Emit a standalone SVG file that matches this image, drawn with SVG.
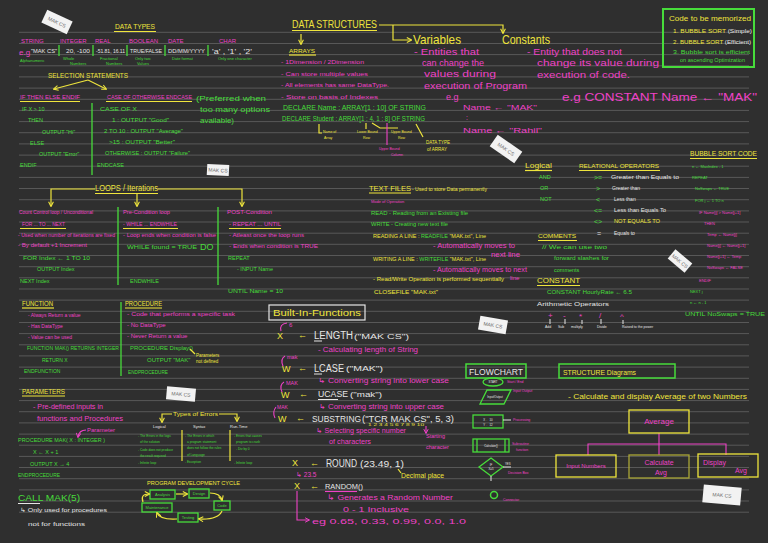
<svg xmlns="http://www.w3.org/2000/svg" width="768" height="543" viewBox="0 0 768 543">
<defs>
<style>
text{font-family:"Liberation Sans",Arial,sans-serif}
.y{fill:#efe53d}
.p{fill:#ee42c6}
.g{fill:#47dc3b}
.w{fill:#e6e6e6}
.hy{stroke:#efe53d;fill:none;stroke-width:1.2}
.hp{stroke:#ee42c6;fill:none;stroke-width:1.1}
.hg{stroke:#47dc3b;fill:none;stroke-width:1.3}
.hw{stroke:#e6e6e6;fill:none;stroke-width:1}
.rule{stroke:#5d5d5d;stroke-width:0.9}
.note{fill:#f2f2f2}
.nt{fill:#6a6a6a;font-size:5px}
</style>
<marker id="ay" viewBox="0 0 10 10" refX="8" refY="5" markerWidth="5" markerHeight="5" orient="auto"><path d="M1,1 L9,5 L1,9" fill="none" stroke="#efe53d" stroke-width="1.8"/></marker>
<marker id="ap" viewBox="0 0 10 10" refX="8" refY="5" markerWidth="5" markerHeight="5" orient="auto"><path d="M1,1 L9,5 L1,9" fill="none" stroke="#ee42c6" stroke-width="1.8"/></marker>
<marker id="aw" viewBox="0 0 10 10" refX="8" refY="5" markerWidth="5" markerHeight="5" orient="auto"><path d="M1,1 L9,5 L1,9" fill="none" stroke="#e6e6e6" stroke-width="1.8"/></marker>
</defs>
<rect width="768" height="543" fill="#2f2f2f"/>
<path class="rule" d="M19 32.3H749M19 43.5H749M19 54.6H749M19 65.8H749M19 76.9H749M19 88.1H749M19 99.3H749M19 110.4H749M19 121.6H749M19 132.7H749M19 143.9H749M19 155.1H749M19 166.2H749M19 177.4H749M19 188.5H749M19 199.7H749M19 210.9H749M19 222H749M19 233.2H749M19 244.3H749M19 255.5H749M19 266.7H749M19 277.8H749M19 289H749M19 300.1H749M19 311.3H749M19 322.5H749M19 333.6H749M19 344.8H749M19 355.9H749M19 367.1H749M19 378.3H749M19 389.4H749M19 400.6H749M19 411.7H749M19 422.9H749M19 434.1H749M19 445.2H749M19 456.4H749M19 467.5H749M19 478.7H749M19 489.9H749M19 501H749M19 512.2H749"/>

<!-- sticky notes -->
<g id="note1" transform="translate(57,22) rotate(25)"><rect x="-14" y="-7" width="28" height="14" class="note"/><text class="nt" text-anchor="middle" y="2">MAK CS</text></g>
<g id="note2" transform="translate(218,170) rotate(3)"><rect x="-11" y="-5.5" width="22" height="11" class="note"/><text class="nt" text-anchor="middle" y="2" font-size="4">MAK CS</text></g>
<g id="note3" transform="translate(506,149) rotate(35)"><rect x="-15" y="-7" width="30" height="14" class="note"/><text class="nt" text-anchor="middle" y="2">MAK CS</text></g>
<g id="note4" transform="translate(680,261) rotate(40)"><rect x="-11" y="-6" width="22" height="12" class="note"/><text class="nt" text-anchor="middle" y="2" font-size="4">MAK CS</text></g>
<g id="note5" transform="translate(493,325) rotate(10)"><rect x="-14" y="-7" width="28" height="14" class="note"/><text class="nt" text-anchor="middle" y="2">MAK CS</text></g>
<g id="note6" transform="translate(181,394) rotate(5)"><rect x="-14.5" y="-6.5" width="29" height="13" class="note"/><text class="nt" text-anchor="middle" y="2">MAK CS</text></g>
<g id="note7" transform="translate(722,495) rotate(5)"><rect x="-19" y="-9" width="38" height="18" class="note"/><text class="nt" text-anchor="middle" y="2" font-size="6">MAK CS</text></g>

<!-- DATA TYPES -->
<g id="data-types">
<text x="115" y="29" class="y" font-size="7" textLength="40" lengthAdjust="spacingAndGlyphs">DATA TYPES</text>
<path class="hy" d="M114 31.5H156"/>
<g class="p" font-size="6">
<text x="21" y="43">STRING</text><text x="60" y="43">INTEGER</text><text x="95" y="43">REAL</text><text x="129" y="43">BOOLEAN</text><text x="168" y="43">DATE</text><text x="219" y="43">CHAR</text>
</g>
<text x="19" y="55" class="p" font-size="8">e.g</text>
<g class="w" font-size="5.5">
<text x="31" y="53" textLength="26" lengthAdjust="spacingAndGlyphs">"MAK CS"</text>
<text x="66" y="53" textLength="24" lengthAdjust="spacingAndGlyphs">20, -100</text>
<text x="96" y="53" textLength="29" lengthAdjust="spacingAndGlyphs">-51.81, 16.11</text>
<text x="130" y="53" textLength="32" lengthAdjust="spacingAndGlyphs">TRUE/FALSE</text>
<text x="168" y="53" textLength="37" lengthAdjust="spacingAndGlyphs">DD/MM/YYYY</text>
<text x="212" y="54" font-size="7" textLength="40" lengthAdjust="spacingAndGlyphs">'a' , '1' , '2'</text>
</g>
<path class="hg" d="M59 45V56M93 45V56M127 45V56M165 45V56M208 45V56"/>
<g class="g" font-size="4">
<text x="20" y="62">Alphanumeric</text>
<text x="63" y="60">Whole</text><text x="70" y="65">Numbers</text>
<text x="100" y="60">Fractional</text><text x="106" y="65">Numbers</text>
<text x="135" y="60">Only two</text><text x="137" y="65">Values</text>
<text x="172" y="60">Date format</text>
<text x="218" y="60">Only one character</text>
</g>
</g>

<!-- SELECTION -->
<g id="selection">
<text x="48" y="78" class="y" font-size="7" textLength="80" lengthAdjust="spacingAndGlyphs">SELECTION STATEMENTS</text>
<path class="hy" d="M88 80L54 89" marker-end="url(#ay)"/>
<path class="hy" d="M88 80L106 89" marker-end="url(#ay)"/>
<text x="20" y="99" class="p" font-size="5.5" textLength="60" lengthAdjust="spacingAndGlyphs">IF THEN ELSE ENDIF</text>
<path class="hy" d="M20 101.5H80"/>
<text x="107" y="99" class="p" font-size="5.5" textLength="85" lengthAdjust="spacingAndGlyphs">CASE OF OTHERWISE ENDCASE</text>
<path class="hy" d="M106 101.5H192"/>
<g class="g" font-size="8">
<text x="196" y="101" textLength="70" lengthAdjust="spacingAndGlyphs">(Preferred when</text>
<text x="200" y="112" textLength="70" lengthAdjust="spacingAndGlyphs">too many options</text>
<text x="200" y="123" textLength="34" lengthAdjust="spacingAndGlyphs">available)</text>
</g>
<path class="hg" d="M92 103V175"/>
<g class="g" font-size="5.5">
<text x="22" y="111">IF X &gt; 10</text>
<text x="28" y="122">THEN</text>
<text x="42" y="134">OUTPUT "Hi"</text>
<text x="30" y="145">ELSE</text>
<text x="39" y="156">OUTPUT "Error"</text>
<text x="20" y="167">ENDIF</text>
</g>
<g class="g" font-size="6">
<text x="100" y="111" textLength="37" lengthAdjust="spacingAndGlyphs">CASE OF X</text>
<text x="112" y="122" textLength="57" lengthAdjust="spacingAndGlyphs">1 : OUTPUT "Good"</text>
<text x="104" y="133" textLength="79" lengthAdjust="spacingAndGlyphs">2 TO 10 : OUTPUT "Average"</text>
<text x="109" y="144" textLength="66" lengthAdjust="spacingAndGlyphs">&gt;15 : OUTPUT "Better"</text>
<text x="105" y="155" textLength="85" lengthAdjust="spacingAndGlyphs">OTHERWISE : OUTPUT "Failure"</text>
<text x="97" y="167" textLength="27" lengthAdjust="spacingAndGlyphs">ENDCASE</text>
</g>
</g>

<!-- LOOPS -->
<g id="loops">
<text x="95" y="191" class="y" font-size="8.5" textLength="63" lengthAdjust="spacingAndGlyphs">LOOPS / Iterations</text>
<path class="hy" d="M95 193.5H158"/>
<path class="hy" d="M95 189H51V206" marker-end="url(#ay)"/>
<path class="hy" d="M158 189H242V206" marker-end="url(#ay)"/>
<path class="hy" d="M137 194V206" marker-end="url(#ay)"/>
<path class="hg" d="M118 207V285M218 207V285"/>
<g class="p" font-size="5">
<text x="19" y="214" textLength="74" lengthAdjust="spacingAndGlyphs">Count Control loop / Unconditional</text>
<text x="22" y="226" font-size="5.5" textLength="43" lengthAdjust="spacingAndGlyphs">FOR ... TO ... NEXT</text>
<text x="18" y="237" textLength="97" lengthAdjust="spacingAndGlyphs">- Used when number of iterations are fixed</text>
<text x="18" y="247" textLength="69" lengthAdjust="spacingAndGlyphs">- By default +1 Increment</text>
<text x="123" y="214" textLength="47" lengthAdjust="spacingAndGlyphs">Pre-Condition loop</text>
<text x="123" y="226" font-size="5.5" textLength="54" lengthAdjust="spacingAndGlyphs">- WHILE ... ENDWHILE</text>
<text x="123" y="237" textLength="93" lengthAdjust="spacingAndGlyphs">- Loop ends when condition is false</text>
<text x="227" y="214" textLength="45" lengthAdjust="spacingAndGlyphs">POST-Condition</text>
<text x="229" y="226" font-size="5.5" textLength="52" lengthAdjust="spacingAndGlyphs">- REPEAT ... UNTIL</text>
<text x="229" y="237" textLength="75" lengthAdjust="spacingAndGlyphs">- Atleast once the loop runs</text>
<text x="229" y="248" textLength="89" lengthAdjust="spacingAndGlyphs">- Ends when condition is TRUE</text>
</g>
<path class="hy" d="M20 228.5H66M123 228.5H178M229 228.5H281"/>
<g class="g" font-size="5.5">
<text x="23" y="260" textLength="67" lengthAdjust="spacingAndGlyphs">FOR Index ← 1 TO 10</text>
<text x="37" y="271">OUTPUT Index</text>
<text x="20" y="283">NEXT Index</text>
<text x="127" y="249" textLength="70" lengthAdjust="spacingAndGlyphs">WHILE found = TRUE</text>
<text x="200" y="250" font-size="9">DO</text>
<text x="130" y="283">ENDWHILE</text>
<text x="228" y="260">REPEAT</text>
<text x="237" y="271">- INPUT Name</text>
<text x="228" y="293" textLength="55" lengthAdjust="spacingAndGlyphs">UNTIL Name = 10</text>
</g>
</g>

<!-- FUNCTION / PROCEDURE -->
<g id="function">
<text x="22" y="306" class="y" font-size="6.5" textLength="31" lengthAdjust="spacingAndGlyphs">FUNCTION</text>
<path class="hy" d="M22 308H54"/>
<g class="p" font-size="5">
<text x="28" y="317">- Always Return a value</text>
<text x="28" y="328">- Has DataType</text>
<text x="28" y="339">- Value can be used</text>
</g>
<g class="g" font-size="5">
<text x="27" y="350" textLength="92" lengthAdjust="spacingAndGlyphs">FUNCTION MAK() RETURNS INTEGER</text>
<text x="42" y="362">RETURN X</text>
<text x="24" y="373">ENDFUNCTION</text>
</g>
<path class="hg" d="M121 302V376"/>
</g>
<g id="procedure">
<text x="125" y="306" class="y" font-size="6.5" textLength="37" lengthAdjust="spacingAndGlyphs">PROCEDURE</text>
<path class="hy" d="M125 308H162"/>
<g class="p" font-size="6">
<text x="127" y="316" textLength="108" lengthAdjust="spacingAndGlyphs">- Code that performs a specific task</text>
<text x="127" y="327">- No DataType</text>
<text x="127" y="338">- Never Return a value</text>
</g>
<g class="g" font-size="6">
<text x="130" y="350" textLength="63" lengthAdjust="spacingAndGlyphs">PROCEDURE Display()</text>
<text x="147" y="362">OUTPUT "MAK"</text>
<text x="128" y="374" textLength="40" lengthAdjust="spacingAndGlyphs">ENDPROCEDURE</text>
</g>
<path class="hy" d="M190 349L195 354"/>
<text x="196" y="357" class="y" font-size="4.5">Parameters</text>
<text x="196" y="363" class="y" font-size="4.5">not defined</text>
</g>

<!-- PARAMETERS -->
<g id="parameters">
<text x="22" y="394" class="y" font-size="6.5" textLength="43" lengthAdjust="spacingAndGlyphs">PARAMETERS</text>
<path class="hy" d="M22 396H65"/>
<g class="p" font-size="7">
<text x="33" y="409" textLength="70" lengthAdjust="spacingAndGlyphs">- Pre-defined inputs in</text>
<text x="37" y="421" textLength="86" lengthAdjust="spacingAndGlyphs">functions and Procedures</text>
<text x="87" y="432" font-size="6">Parameter</text>
</g>
<path class="hp" d="M86 430Q79 430 78 437" marker-end="url(#ap)"/>
<g class="g" font-size="5.5">
<text x="18" y="442" textLength="87" lengthAdjust="spacingAndGlyphs">PROCEDURE MAK( X : INTEGER )</text>
<text x="33" y="454">X ← X + 1</text>
<text x="30" y="466">OUTPUT X → 4</text>
<text x="18" y="477" textLength="42" lengthAdjust="spacingAndGlyphs">ENDPROCEDURE</text>
<text x="18" y="501" font-size="9" textLength="62" lengthAdjust="spacingAndGlyphs">CALL MAK(5)</text>
</g>
<path class="hw" d="M18 503.5H40"/>
<g class="w" font-size="6">
<text x="20" y="512" textLength="87" lengthAdjust="spacingAndGlyphs">↳ Only used for procedures</text>
<text x="28" y="526" textLength="57" lengthAdjust="spacingAndGlyphs">not for functions</text>
</g>
</g>

<!-- TYPES OF ERRORS -->
<g id="errors">
<text x="173" y="416" class="y" font-size="5.5" textLength="45" lengthAdjust="spacingAndGlyphs">Types of Errors</text>
<path class="hy" d="M172 414H162V422" marker-end="url(#ay)"/>
<path class="hy" d="M219 414H237V421" marker-end="url(#ay)"/>
<g class="w" font-size="4">
<text x="153" y="428">Logical</text><text x="193" y="428">Syntax</text><text x="230" y="428">Run-Time</text>
</g>
<path class="hy" d="M182 430V461M230 430V461"/>
<g class="g" font-size="3.2">
<text x="138" y="437">- The Errors in the logic</text>
<text x="140" y="443">of the solution</text>
<text x="138" y="451">- Code does not produce</text>
<text x="140" y="457">the result required</text>
<text x="138" y="464">- Infinite loop</text>
<text x="185" y="437">- The Errors in which</text>
<text x="187" y="443">a program statement</text>
<text x="187" y="449">does not follow the rules</text>
<text x="187" y="456">of Language</text>
<text x="185" y="463">- Exception</text>
<text x="234" y="437">- Errors that causes</text>
<text x="236" y="443">program to crash</text>
<text x="236" y="450">- Div by 0</text>
<text x="234" y="464">- Infinite loop</text>
</g>
</g>

<!-- PROGRAM DEVELOPMENT CYCLE -->
<g id="pdc">
<text x="147" y="485" class="y" font-size="5.5" textLength="93" lengthAdjust="spacingAndGlyphs">PROGRAM DEVELOPMENT CYCLE</text>
<g class="hg" stroke-width="1">
<rect x="150" y="490" width="25" height="9"/>
<rect x="189" y="489" width="20" height="9"/>
<rect x="214" y="501" width="16" height="9"/>
<rect x="178" y="513" width="20" height="9"/>
<rect x="142" y="503" width="30" height="9"/>
</g>
<g class="g" font-size="4" text-anchor="middle">
<text x="162.5" y="496">Analysis</text>
<text x="199" y="495">Design</text>
<text x="222" y="507">Code</text>
<text x="188" y="519">Testing</text>
<text x="157" y="509">Maintenance</text>
</g>
<g class="hy" stroke-width="1">
<path d="M176 494H187" marker-end="url(#ay)"/>
<path d="M210 493Q220 493 222 500" marker-end="url(#ay)"/>
<path d="M222 511Q218 520 199 519" marker-end="url(#ay)"/>
<path d="M177 519Q160 520 157 513" marker-end="url(#ay)"/>
<path d="M143 502Q140 494 149 494" marker-end="url(#ay)"/>
</g>
</g>

<!-- DATA STRUCTURES -->
<g id="data-structures">
<text x="292" y="28" class="y" font-size="10" textLength="85" lengthAdjust="spacingAndGlyphs">DATA STRUCTURES</text>
<path class="hy" d="M292 30.5H377"/>
<path class="hy" d="M379 25H503V33" marker-end="url(#ay)"/>
<path class="hy" d="M393 25V40H411" marker-end="url(#ay)"/>
<path class="hy" d="M301 34V44" marker-end="url(#ay)"/>
<text x="289" y="53" class="y" font-size="5.5" textLength="26" lengthAdjust="spacingAndGlyphs">ARRAYS</text>
<path class="hy" d="M289 55H316"/>
<g class="p" font-size="6">
<text x="281" y="64" textLength="83" lengthAdjust="spacingAndGlyphs">- 1Dimension / 2Dimension</text>
<text x="281" y="76" textLength="87" lengthAdjust="spacingAndGlyphs">- Can store multiple values</text>
<text x="281" y="87" textLength="108" lengthAdjust="spacingAndGlyphs">- All elements has same DataType.</text>
<text x="281" y="99" textLength="97" lengthAdjust="spacingAndGlyphs">- Store on basis of Indexes</text>
</g>
<g class="g" font-size="7">
<text x="283" y="110" textLength="143" lengthAdjust="spacingAndGlyphs">DECLARE Name : ARRAY[1 : 10] OF STRING</text>
<text x="282" y="121" textLength="143" lengthAdjust="spacingAndGlyphs">DECLARE Student : ARRAY[1 : 4, 1 : 8] OF STRING</text>
</g>
<path class="hy" stroke-width="0.8" d="M319 124V133H322M366 123V129M372 123L380 128H398M416 124L423 137"/>
<path class="hp" d="M387 123V145"/>
<g class="y" font-size="3.5">
<text x="323" y="133">Name of</text><text x="324" y="139">Array</text>
<text x="357" y="133">Lower Bound</text><text x="363" y="139">Row</text>
<text x="391" y="133">Upper Bound</text><text x="398" y="139">Row</text>
<text x="426" y="144" font-size="4.5">DATA TYPE</text><text x="427" y="151" font-size="4.5">of ARRAY</text>
</g>
<g class="p" font-size="3.5">
<text x="379" y="150">Upper Bound</text><text x="391" y="156">Column</text>
</g>
</g>

<!-- VARIABLES -->
<g id="variables">
<text x="413" y="44" class="y" font-size="13" textLength="48" lengthAdjust="spacingAndGlyphs">Variables</text>
<g class="p" font-size="9">
<text x="414" y="55" textLength="65" lengthAdjust="spacingAndGlyphs">- Entities that</text>
<text x="422" y="66" textLength="62" lengthAdjust="spacingAndGlyphs">can change the</text>
<text x="424" y="77" textLength="72" lengthAdjust="spacingAndGlyphs">values during</text>
<text x="424" y="89" textLength="103" lengthAdjust="spacingAndGlyphs">execution of Program</text>
<text x="446" y="100">e.g</text>
</g>
<g class="p" font-size="7">
<text x="463" y="110" textLength="74" lengthAdjust="spacingAndGlyphs">Name ← "MAK"</text>
<text x="466" y="120">:</text>
<text x="463" y="133" textLength="79" lengthAdjust="spacingAndGlyphs">Name ← "Rahil"</text>
</g>
</g>

<!-- CONSTANTS -->
<g id="constants">
<text x="502" y="44" class="y" font-size="13" textLength="48" lengthAdjust="spacingAndGlyphs">Constants</text>
<g class="p" font-size="9">
<text x="527" y="55" textLength="95" lengthAdjust="spacingAndGlyphs">- Entity that does not</text>
<text x="537" y="66" textLength="122" lengthAdjust="spacingAndGlyphs">change its value during</text>
<text x="537" y="78" textLength="93" lengthAdjust="spacingAndGlyphs">execution of code.</text>
<text x="562" y="101" font-size="11" textLength="195" lengthAdjust="spacingAndGlyphs">e.g CONSTANT Name ← "MAK"</text>
</g>
</g>

<!-- CODE TO BE MEMORIZED -->
<g id="memorize">
<rect x="663" y="9" width="91" height="58" fill="none" stroke="#47dc3b" stroke-width="2"/>
<text x="669" y="21" class="y" font-size="7" textLength="82" lengthAdjust="spacingAndGlyphs">Code to be memorized</text>
<text x="673" y="33" font-size="5.5" textLength="79" lengthAdjust="spacingAndGlyphs"><tspan class="y">1. BUBBLE SORT </tspan><tspan class="w">(Simple)</tspan></text>
<text x="673" y="44" font-size="5.5" textLength="78" lengthAdjust="spacingAndGlyphs"><tspan class="y">2. BUBBLE SORT </tspan><tspan class="w">(Efficient)</tspan></text>
<text x="673" y="54" class="g" font-size="4.5" textLength="77" lengthAdjust="spacingAndGlyphs">3. Bubble sort is efficient</text>
<text x="680" y="62" class="g" font-size="4.5" textLength="65" lengthAdjust="spacingAndGlyphs">on ascending Optimization</text>
</g>

<!-- TEXT FILES -->
<g id="text-files">
<text x="369" y="191" class="y" font-size="8" textLength="42" lengthAdjust="spacingAndGlyphs">TEXT FILES</text>
<path class="hy" d="M369 193H411"/>
<text x="412" y="191" class="y" font-size="5" textLength="75" lengthAdjust="spacingAndGlyphs">- Used to store Data permanently</text>
<text x="371" y="203" class="p" font-size="4">Mode of Operation</text>
<g class="g" font-size="5">
<text x="371" y="215" textLength="97" lengthAdjust="spacingAndGlyphs">READ - Reading from an Existing file</text>
<text x="371" y="226" textLength="77" lengthAdjust="spacingAndGlyphs">WRITE - Creating new text file</text>
</g>
<text x="373" y="238" font-size="5.5" textLength="113" lengthAdjust="spacingAndGlyphs"><tspan class="y">READING A LINE : </tspan><tspan class="g">READFILE</tspan><tspan class="y"> "MAK.txt", Line</tspan></text>
<text x="373" y="261" font-size="5.5" textLength="113" lengthAdjust="spacingAndGlyphs"><tspan class="y">WRITING A LINE : </tspan><tspan class="g">WRITEFILE</tspan><tspan class="y"> "MAK.txt", Line</tspan></text>
<g class="p" font-size="7">
<text x="433" y="248" textLength="82" lengthAdjust="spacingAndGlyphs">- Automatically moves to</text>
<text x="491" y="257" textLength="29" lengthAdjust="spacingAndGlyphs">next line</text>
<text x="433" y="272" textLength="94" lengthAdjust="spacingAndGlyphs">- Automatically moves to next</text>
<text x="510" y="280" font-size="6">line</text>
</g>
<g class="y" font-size="5">
<text x="373" y="281" textLength="131" lengthAdjust="spacingAndGlyphs">- Read/Write Operation is performed sequentially</text>
<text x="374" y="294" textLength="64" lengthAdjust="spacingAndGlyphs">CLOSEFILE "MAK.txt"</text>
</g>
</g>

<!-- BUILT-IN FUNCTIONS -->
<g id="built-in">
<rect x="269" y="305" width="96" height="15" fill="none" stroke="#e6e6e6" stroke-width="1.2"/>
<text x="273" y="316" class="y" font-size="9" textLength="88" lengthAdjust="spacingAndGlyphs">Built-In-Functions</text>
<g class="y" font-size="9">
<text x="277" y="339">X</text>
<text x="282" y="372">W</text>
<text x="281" y="398">W</text>
<text x="278" y="422">W</text>
<text x="292" y="466">X</text>
<text x="294" y="489">X</text>
</g>
<g class="y" font-size="9">
<text x="298" y="338">←</text>
<text x="298" y="371">←</text>
<text x="299" y="397">←</text>
<text x="296" y="421">←</text>
<text x="310" y="466">←</text>
<text x="310" y="489">←</text>
</g>
<g class="w">
<text x="314" y="339" font-size="10" textLength="39" lengthAdjust="spacingAndGlyphs">LENGTH</text>
<text x="354" y="339" font-size="8" textLength="55" lengthAdjust="spacingAndGlyphs">("MAK CS")</text>
<text x="314" y="372" font-size="10" textLength="30" lengthAdjust="spacingAndGlyphs">LCASE</text>
<text x="346" y="371" font-size="7" textLength="37" lengthAdjust="spacingAndGlyphs">("MAK")</text>
<text x="318" y="397" font-size="9.5" textLength="30" lengthAdjust="spacingAndGlyphs">UCASE</text>
<text x="350" y="397" font-size="6.5" textLength="32" lengthAdjust="spacingAndGlyphs">("mak")</text>
<text x="312" y="422" font-size="9" textLength="49" lengthAdjust="spacingAndGlyphs">SUBSTRING</text>
<text x="362" y="422" font-size="9" textLength="92" lengthAdjust="spacingAndGlyphs">("TCR MAK CS", 5, 3)</text>
<text x="326" y="467" font-size="10" textLength="31" lengthAdjust="spacingAndGlyphs">ROUND</text>
<text x="360" y="467" font-size="9" textLength="44" lengthAdjust="spacingAndGlyphs">(23.49, 1)</text>
<text x="325" y="489" font-size="8" textLength="38" lengthAdjust="spacingAndGlyphs">RANDOM()</text>
</g>
<path class="hw" d="M314 341H322M314 374H322M318 399.5H338"/>
<path class="hp" d="M325 491.5H357"/>
<text x="368" y="426" class="y" font-size="3" textLength="56" lengthAdjust="spacingAndGlyphs">1 2 3 4 5 6 7 8 9 10</text>
<g class="p">
<text x="289" y="327" font-size="6">6</text>
<text x="287" y="359" font-size="5.5">mak</text>
<text x="286" y="385" font-size="5.5">MAK</text>
<text x="277" y="409" font-size="5">MAK</text>
<text x="318" y="352" font-size="7" textLength="100" lengthAdjust="spacingAndGlyphs">- Calculating length of String</text>
<text x="318" y="383" font-size="6.5" textLength="131" lengthAdjust="spacingAndGlyphs">↳ Converting string into lower case</text>
<text x="319" y="409" font-size="7" textLength="125" lengthAdjust="spacingAndGlyphs">↳ Converting string into upper case</text>
<text x="316" y="433" font-size="6.5" textLength="90" lengthAdjust="spacingAndGlyphs">↳ Selecting specific number</text>
<text x="329" y="444" font-size="6.5" textLength="42" lengthAdjust="spacingAndGlyphs">of characters</text>
<text x="426" y="438" font-size="5.5">Starting</text>
<text x="426" y="449" font-size="5.5">character</text>
<text x="296" y="477" font-size="6.5">↳ 23.5</text>
<text x="327" y="500" font-size="7.5" textLength="126" lengthAdjust="spacingAndGlyphs">↳ Generates a Random Number</text>
<text x="343" y="512" font-size="8" textLength="66" lengthAdjust="spacingAndGlyphs">0 - 1 Inclusive</text>
<text x="312" y="524" font-size="8" textLength="154" lengthAdjust="spacingAndGlyphs">eg 0.65, 0.33, 0.99, 0.0, 1.0</text>
</g>
<text x="401" y="478" class="y" font-size="7" textLength="43" lengthAdjust="spacingAndGlyphs">Decimal place</text>
<g class="hp">
<path d="M281 331Q279 324 287 323"/>
<path d="M283 366Q280 359 285 356"/>
<path d="M282 392Q279 385 284 382"/>
<path d="M275 418Q272 412 276 407"/>
<path d="M426 426V433" marker-end="url(#ap)"/>
<path d="M297 491V520H309" marker-end="url(#ap)"/>
</g>
<path class="hy" d="M398 469L401 473"/>
</g>

<!-- LOGICAL / RELATIONAL / COMMENTS -->
<g id="operators">
<text x="525" y="168" class="y" font-size="7.5" textLength="27" lengthAdjust="spacingAndGlyphs">Logical</text>
<path class="hy" d="M525 170.5H552"/>
<g class="g" font-size="5.5">
<text x="539" y="179">AND</text><text x="540" y="190">OR</text><text x="540" y="201">NOT</text>
</g>
<text x="579" y="168" class="y" font-size="6" textLength="80" lengthAdjust="spacingAndGlyphs">RELATIONAL OPERATORS</text>
<path class="hy" d="M579 170.5H660"/>
<g class="g" font-size="7">
<text x="594" y="180">&gt;=</text>
<text x="596" y="191">&gt;</text>
<text x="596" y="202">&lt;</text>
<text x="594" y="213">&lt;=</text>
<text x="594" y="224">&lt;&gt;</text>
</g>
<text x="597" y="236" class="w" font-size="7">=</text>
<g class="w" font-size="5">
<text x="611" y="179" textLength="68" lengthAdjust="spacingAndGlyphs">Greater than Equals to</text>
<text x="612" y="190">Greater than</text>
<text x="614" y="201">Less than</text>
<text x="614" y="212" textLength="52" lengthAdjust="spacingAndGlyphs">Less than Equals To</text>
<text x="614" y="235">Equals to</text>
</g>
<text x="614" y="223" class="y" font-size="5" textLength="46" lengthAdjust="spacingAndGlyphs">NOT EQUALS TO</text>
<text x="538" y="238" class="y" font-size="6" textLength="38" lengthAdjust="spacingAndGlyphs">COMMENTS</text>
<path class="hy" d="M538 240.5H577"/>
<g class="g" font-size="5.5">
<text x="542" y="249" textLength="65" lengthAdjust="spacingAndGlyphs">// We can use two</text>
<text x="554" y="260" textLength="55" lengthAdjust="spacingAndGlyphs">forward slashes for</text>
<text x="554" y="272">comments</text>
</g>
</g>

<!-- BUBBLE SORT CODE -->
<g id="bubble-sort">
<text x="690" y="156" class="y" font-size="6.5" textLength="67" lengthAdjust="spacingAndGlyphs">BUBBLE SORT CODE</text>
<path class="hy" d="M690 158.5H757"/>
<g class="g" font-size="4">
<text x="692" y="168">n ← MaxIndex - 1</text>
<text x="692" y="179">REPEAT</text>
<text x="695" y="190">NoSwaps ← TRUE</text>
<text x="695" y="202">FOR j ← 1 TO n</text>
<text x="690" y="293">NEXT j</text>
<text x="690" y="304">n ← n - 1</text>
<text x="685" y="316" font-size="6" textLength="80" lengthAdjust="spacingAndGlyphs">UNTIL NoSwaps = TRUE</text>
</g>
<g class="p" font-size="4">
<text x="699" y="214">IF Name[j] &gt; Name[j+1]</text>
<text x="704" y="225">THEN</text>
<text x="707" y="236">Temp ← Name[j]</text>
<text x="707" y="247">Name[j] ← Name[j+1]</text>
<text x="707" y="258">Name[j+1] ← Temp</text>
<text x="707" y="269">NoSwaps ← FALSE</text>
<text x="699" y="282">ENDIF</text>
</g>
</g>

<!-- CONSTANT / ARITHMETIC -->
<g id="constant">
<text x="537" y="283" class="y" font-size="7" textLength="43" lengthAdjust="spacingAndGlyphs">CONSTANT</text>
<path class="hy" d="M537 285.5H580"/>
<text x="547" y="294" class="g" font-size="5" textLength="85" lengthAdjust="spacingAndGlyphs">CONSTANT HourlyRate ← 6.5</text>
<text x="537" y="306" class="w" font-size="6" textLength="72" lengthAdjust="spacingAndGlyphs">Arithmetic Operators</text>
<g class="p" font-size="8">
<text x="548" y="318">+</text><text x="563" y="318">-</text><text x="579" y="319">*</text><text x="599" y="318">/</text><text x="620" y="319">^</text>
</g>
<g class="w" font-size="3.5">
<text x="545" y="328">Add</text><text x="558" y="328">Sub</text><text x="571" y="328">multiply</text><text x="597" y="328">Divide</text><text x="622" y="328">Raised to the power</text>
</g>
<path class="hw" stroke-width="0.6" d="M550 319V324M565 319V324M582 320V324M601 319V324M623 320V324"/>
</g>

<!-- FLOWCHART -->
<g id="flowchart">
<rect x="466" y="364" width="60" height="14" fill="none" stroke="#47dc3b" stroke-width="1.5"/>
<text x="469" y="375" class="w" font-size="8.5" textLength="54" lengthAdjust="spacingAndGlyphs">FLOWCHART</text>
<g class="hg" stroke-width="1">
<ellipse cx="493" cy="382" rx="10" ry="4"/>
<path d="M480 404L487 390H511L504 404Z"/>
<rect x="473" y="415" width="30" height="13"/>
<rect x="473" y="439" width="36" height="13"/>
<path d="M477 439V452M505 439V452"/>
<path d="M491 458L503 467L491 476L479 467Z"/>
<circle cx="494" cy="495" r="3.5" stroke-width="1.5"/>
</g>
<g class="w" font-size="2.8" text-anchor="middle">
<text x="493" y="383">START</text>
<text x="495" y="398">Input/Output</text>
<text x="488" y="421">X ← 10</text>
<text x="488" y="426">Y ← 12</text>
<text x="491" y="447">Calculate()</text>
<text x="491" y="466">IF</text>
<text x="491" y="470">X=5</text>
</g>
<g class="p" font-size="3.5">
<text x="507" y="383">Start / End</text>
<text x="513" y="392">Input Output</text>
<text x="513" y="421">Processing</text>
<text x="512" y="445">Subroutine</text>
<text x="516" y="451">function</text>
<text x="508" y="474">Decision Box</text>
<text x="503" y="501">Connector</text>
</g>
<g class="hw" stroke-width="0.5">
<path d="M503 420H511"/>
<path d="M503 467H511"/>
<path d="M491 476V481"/>
</g>
<text x="505" y="465" class="w" font-size="2.8">YES</text>
</g>

<!-- STRUCTURE DIAGRAMS -->
<g id="structure">
<rect x="559" y="364" width="116" height="14" fill="none" stroke="#47dc3b" stroke-width="1.5"/>
<text x="563" y="375" class="y" font-size="8" textLength="73" lengthAdjust="spacingAndGlyphs">STRUCTURE Diagrams</text>
<text x="568" y="399" class="y" font-size="8" textLength="179" lengthAdjust="spacingAndGlyphs">- Calculate and display Average of two Numbers</text>
</g>
<g id="connectors">
<path class="hp" d="M659 433V444M588 455V444H726V455M659 444V455"/>
</g>
<g id="avg-box">
<rect x="629" y="410" width="60" height="23" fill="none" stroke="#efe53d" stroke-width="1.3"/>
<text x="659" y="424" class="p" font-size="8" text-anchor="middle">Average</text>
</g>
<g id="input-box">
<rect x="556" y="455" width="60" height="22" fill="none" stroke="#efe53d" stroke-width="1.3"/>
<text x="586" y="468" class="p" font-size="6" text-anchor="middle">Input Numbers</text>
</g>
<g id="calc-box">
<rect x="629" y="455" width="60" height="23" fill="none" stroke="#aaa636" stroke-width="1.3"/>
<text x="659" y="465" class="p" font-size="7" text-anchor="middle">Calculate</text>
<text x="661" y="475" class="p" font-size="7" text-anchor="middle">Avg</text>
</g>
<g id="display-box">
<rect x="698" y="454" width="60" height="23" fill="none" stroke="#efe53d" stroke-width="1.3"/>
<text x="703" y="465" class="p" font-size="7">Display</text>
<text x="735" y="473" class="p" font-size="7">Avg</text>
</g>
</svg>
